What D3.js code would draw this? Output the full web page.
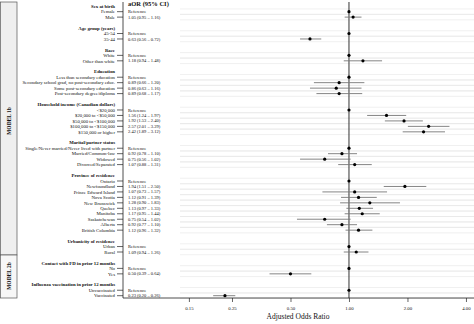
<!DOCTYPE html>
<html>
<head>
<meta charset="utf-8">
<script src="https://cdn.jsdelivr.net/npm/d3@7"></script>
<style>
  body { margin: 0; background: #fff; }
  text { font-family: "Liberation Serif", "DejaVu Serif", serif; fill: #111; }
</style>
</head>
<body>
<script>
// groups and their categories (first one of each is the reference)
var groups = ["Sex at birth", "Age group (years)", "Race", "Education",
  "Household income (Canadian dollars)", "Marital/partner status",
  "Province of residence", "Urbanicity of residence",
  "Contact with FD in prior 12 months", "Influenza vaccination in prior 12 months"];
var groupSize = [2, 2, 2, 4, 5, 4, 10, 2, 2, 2];
var models = ["MODEL 1b", "MODEL 2b"];

var categories = ["Female", "Male",
  "45-54", "35-44",
  "White", "Other than white",
  "Less than secondary education", "Secondary school grad, no post-secondary educ.", "Some post-secondary education", "Post-secondary degree/diploma",
  "<$20,000", "$20,000 to <$50,000", "$50,000 to <$100,000", "$100,000 to <$150,000", "$150,000 or higher",
  "Single/Never married/Never lived with partner", "Married/Common-law", "Widowed", "Divorced/Separated",
  "Ontario", "Newfoundland", "Prince Edward Island", "Nova Scotia", "New Brunswick", "Quebec", "Manitoba", "Saskatchewan", "Alberta", "British Columbia",
  "Urban", "Rural",
  "No", "Yes",
  "Unvaccinated", "Vaccinated"];

// null = reference category
var aor = [null, 1.05, null, 0.63, null, 1.18, null, 0.89, 0.86, 0.89,
  null, 1.56, 1.92, 2.57, 2.42, null, 0.92, 0.75, 1.07,
  null, 1.94, 1.07, 1.12, 1.28, 1.13, 1.17, 0.75, 0.92, 1.12,
  null, 1.09, null, 0.50, null, 0.23];
var ciLow = [null, 0.95, null, 0.56, null, 0.94, null, 0.66, 0.63, 0.68,
  null, 1.24, 1.53, 2.01, 1.89, null, 0.78, 0.56, 0.88,
  null, 1.51, 0.73, 0.91, 0.90, 0.97, 0.95, 0.54, 0.77, 0.96,
  null, 0.94, null, 0.39, null, 0.20];
var ciHigh = [null, 1.16, null, 0.72, null, 1.48, null, 1.20, 1.16, 1.17,
  null, 1.97, 2.40, 3.29, 3.12, null, 1.10, 1.02, 1.31,
  null, 2.50, 1.57, 1.39, 1.83, 1.33, 1.44, 1.02, 1.10, 1.32,
  null, 1.26, null, 0.64, null, 0.26];

var xTicks = [0.15, 0.25, 0.5, 1, 2, 4];

var W = 474, H = 324;
var svg = d3.select("body").append("svg").attr("width", W).attr("height", H);

// build the row slots: header, categories, blank line
var rows = [];
var slot = 0, k = 0;
groups.forEach(function(g, gi) {
  rows.push({type: "header", text: g, slot: slot++});
  for (var j = 0; j < groupSize[gi]; j++) {
    rows.push({type: "cat", text: categories[k], est: aor[k], lo: ciLow[k], hi: ciHigh[k], slot: slot++});
    k++;
  }
  slot++;
});
var lastSlot = slot - 2;

var y = d3.scaleLinear().domain([0, lastSlot]).range([6.2, 295.7]);
var x = d3.scaleLog().domain([0.135, 4.4]).range([180, 474]);
var axisY = 298, labelLineX = 123;
var catRows = rows.filter(function(r){ return r.type == "cat"; });

// model box on the left
var splitY = 255;
svg.append("rect").attr("x", 0.5).attr("y", 2).attr("width", 16.5).attr("height", splitY - 2)
  .attr("fill", "#efefef").attr("stroke", "#555").attr("stroke-width", 0.7);
svg.append("rect").attr("x", 0.5).attr("y", splitY).attr("width", 16.5).attr("height", axisY - splitY)
  .attr("fill", "#f7f7f7").attr("stroke", "#555").attr("stroke-width", 0.7);
[[121, models[0]], [276, models[1]]].forEach(function(m) {
  svg.append("text")
    .attr("transform", "translate(10.5," + m[0] + ") rotate(-90)")
    .attr("text-anchor", "middle")
    .attr("font-size", 5.5).attr("font-weight", "bold")
    .text(m[1]);
});

// light grid lines around each category row
var gridYs = [];
catRows.forEach(function(r) { gridYs.push(y(r.slot - 0.5)); gridYs.push(y(r.slot + 0.5)); });
svg.selectAll("line.grid").data(gridYs).enter().append("line")
  .attr("class", "grid")
  .attr("x1", 180).attr("x2", W)
  .attr("y1", function(d){ return d; }).attr("y2", function(d){ return d; })
  .attr("stroke", "#e6e6e6").attr("stroke-width", 0.6);

// labels
svg.selectAll("text.lab").data(rows).enter().append("text")
  .attr("class", "lab")
  .attr("x", 115)
  .attr("y", function(d){ return y(d.slot); })
  .attr("dy", "0.35em")
  .attr("text-anchor", "end")
  .attr("font-size", 4.8)
  .attr("font-weight", function(d){ return d.type == "header" ? "bold" : "normal"; })
  .text(function(d){ return d.text; });

// tick marks on label line
svg.selectAll("line.ytick").data(catRows).enter().append("line")
  .attr("class", "ytick")
  .attr("x1", 117).attr("x2", labelLineX)
  .attr("y1", function(d){ return y(d.slot); }).attr("y2", function(d){ return y(d.slot); })
  .attr("stroke", "#222").attr("stroke-width", 0.7);
svg.append("line").attr("x1", labelLineX).attr("x2", labelLineX).attr("y1", 2).attr("y2", axisY)
  .attr("stroke", "#222").attr("stroke-width", 0.8);

// aOR column
svg.append("text").attr("x", 128).attr("y", 4).attr("dy", "0.35em")
  .attr("font-size", 6.5).attr("font-weight", "bold").text("aOR (95% CI)");
var f = d3.format(".2f");
svg.selectAll("text.val").data(catRows).enter().append("text")
  .attr("class", "val")
  .attr("x", 128)
  .attr("y", function(d){ return y(d.slot); })
  .attr("dy", "0.35em")
  .attr("font-size", 4.5)
  .text(function(d){ return d.est == null ? "Reference" : f(d.est) + " (" + f(d.lo) + " \u2013 " + f(d.hi) + ")"; });

// reference line at 1
svg.append("line").attr("x1", x(1)).attr("x2", x(1)).attr("y1", 2).attr("y2", axisY)
  .attr("stroke", "#333").attr("stroke-width", 1);

// CIs and points
var est = catRows.filter(function(d){ return d.est != null; });
svg.selectAll("line.ci").data(est).enter().append("line")
  .attr("class", "ci")
  .attr("x1", function(d){ return x(d.lo); }).attr("x2", function(d){ return x(d.hi); })
  .attr("y1", function(d){ return y(d.slot); }).attr("y2", function(d){ return y(d.slot); })
  .attr("stroke", "#777").attr("stroke-width", 0.9);
svg.selectAll("circle.pt").data(catRows).enter().append("circle")
  .attr("class", "pt")
  .attr("cx", function(d){ return x(d.est == null ? 1 : d.est); })
  .attr("cy", function(d){ return y(d.slot); })
  .attr("r", 1.6).attr("fill", "#000");

// x axis
svg.append("line").attr("x1", labelLineX).attr("x2", W).attr("y1", axisY).attr("y2", axisY)
  .attr("stroke", "#222").attr("stroke-width", 0.8);
var ax = svg.append("g").attr("transform", "translate(0," + axisY + ")")
  .call(d3.axisBottom(x).tickValues(xTicks).tickFormat(f).tickSize(4).tickPadding(5));
ax.select(".domain").remove();
ax.selectAll("text").attr("font-size", 4.8).attr("font-family", "Liberation Serif");
ax.selectAll("line").attr("stroke", "#222").attr("stroke-width", 0.7);

svg.append("text").attr("x", 298).attr("y", 319).attr("text-anchor", "middle")
  .attr("font-size", 7.5).text("Adjusted Odds Ratio");
</script>
</body>
</html>
